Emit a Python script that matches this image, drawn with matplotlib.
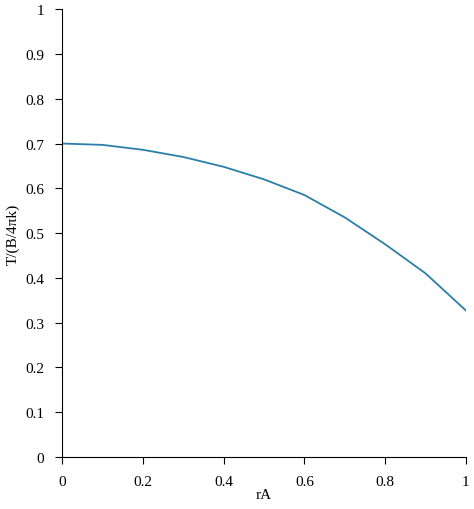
import numpy as np
import matplotlib
matplotlib.use('Agg')
import matplotlib.pyplot as plt

plt.rcParams['font.family'] = ['Liberation Serif', 'DejaVu Serif']

# values
rA = [0.0, 0.1, 0.2, 0.3, 0.4, 0.5, 0.6, 0.7, 0.8, 0.9, 1.0]
T = [0.700, 0.697, 0.686, 0.670, 0.648, 0.620, 0.585, 0.535, 0.475, 0.410, 0.327]

fig = plt.figure(figsize=(4.74, 5.10), dpi=100)
ax = fig.add_axes([0.131, 0.102, 0.852, 0.878])
ax.plot(rA, T, color='#2a7fa8', lw=1.3)
ax.set_xlim(0, 1)
ax.set_ylim(0, 1)
ax.set_xticks(np.arange(0, 1.01, 0.2))
ax.set_xticklabels(['0', '0.2', '0.4', '0.6', '0.8', '1'])
ax.set_yticks(np.arange(0, 1.01, 0.1))
ax.set_yticklabels(['0', '0.1', '0.2', '0.3', '0.4', '0.5', '0.6', '0.7', '0.8', '0.9', '1'])
ax.spines['right'].set_visible(False)
ax.spines['top'].set_visible(False)
ax.tick_params(labelsize=11, length=5, pad=8)
ax.set_xlabel('rA', fontsize=11, labelpad=0)
ax.set_ylabel('T/(B/4\u03c0k)', fontsize=11, labelpad=4)
plt.savefig('out.png', dpi=100)
